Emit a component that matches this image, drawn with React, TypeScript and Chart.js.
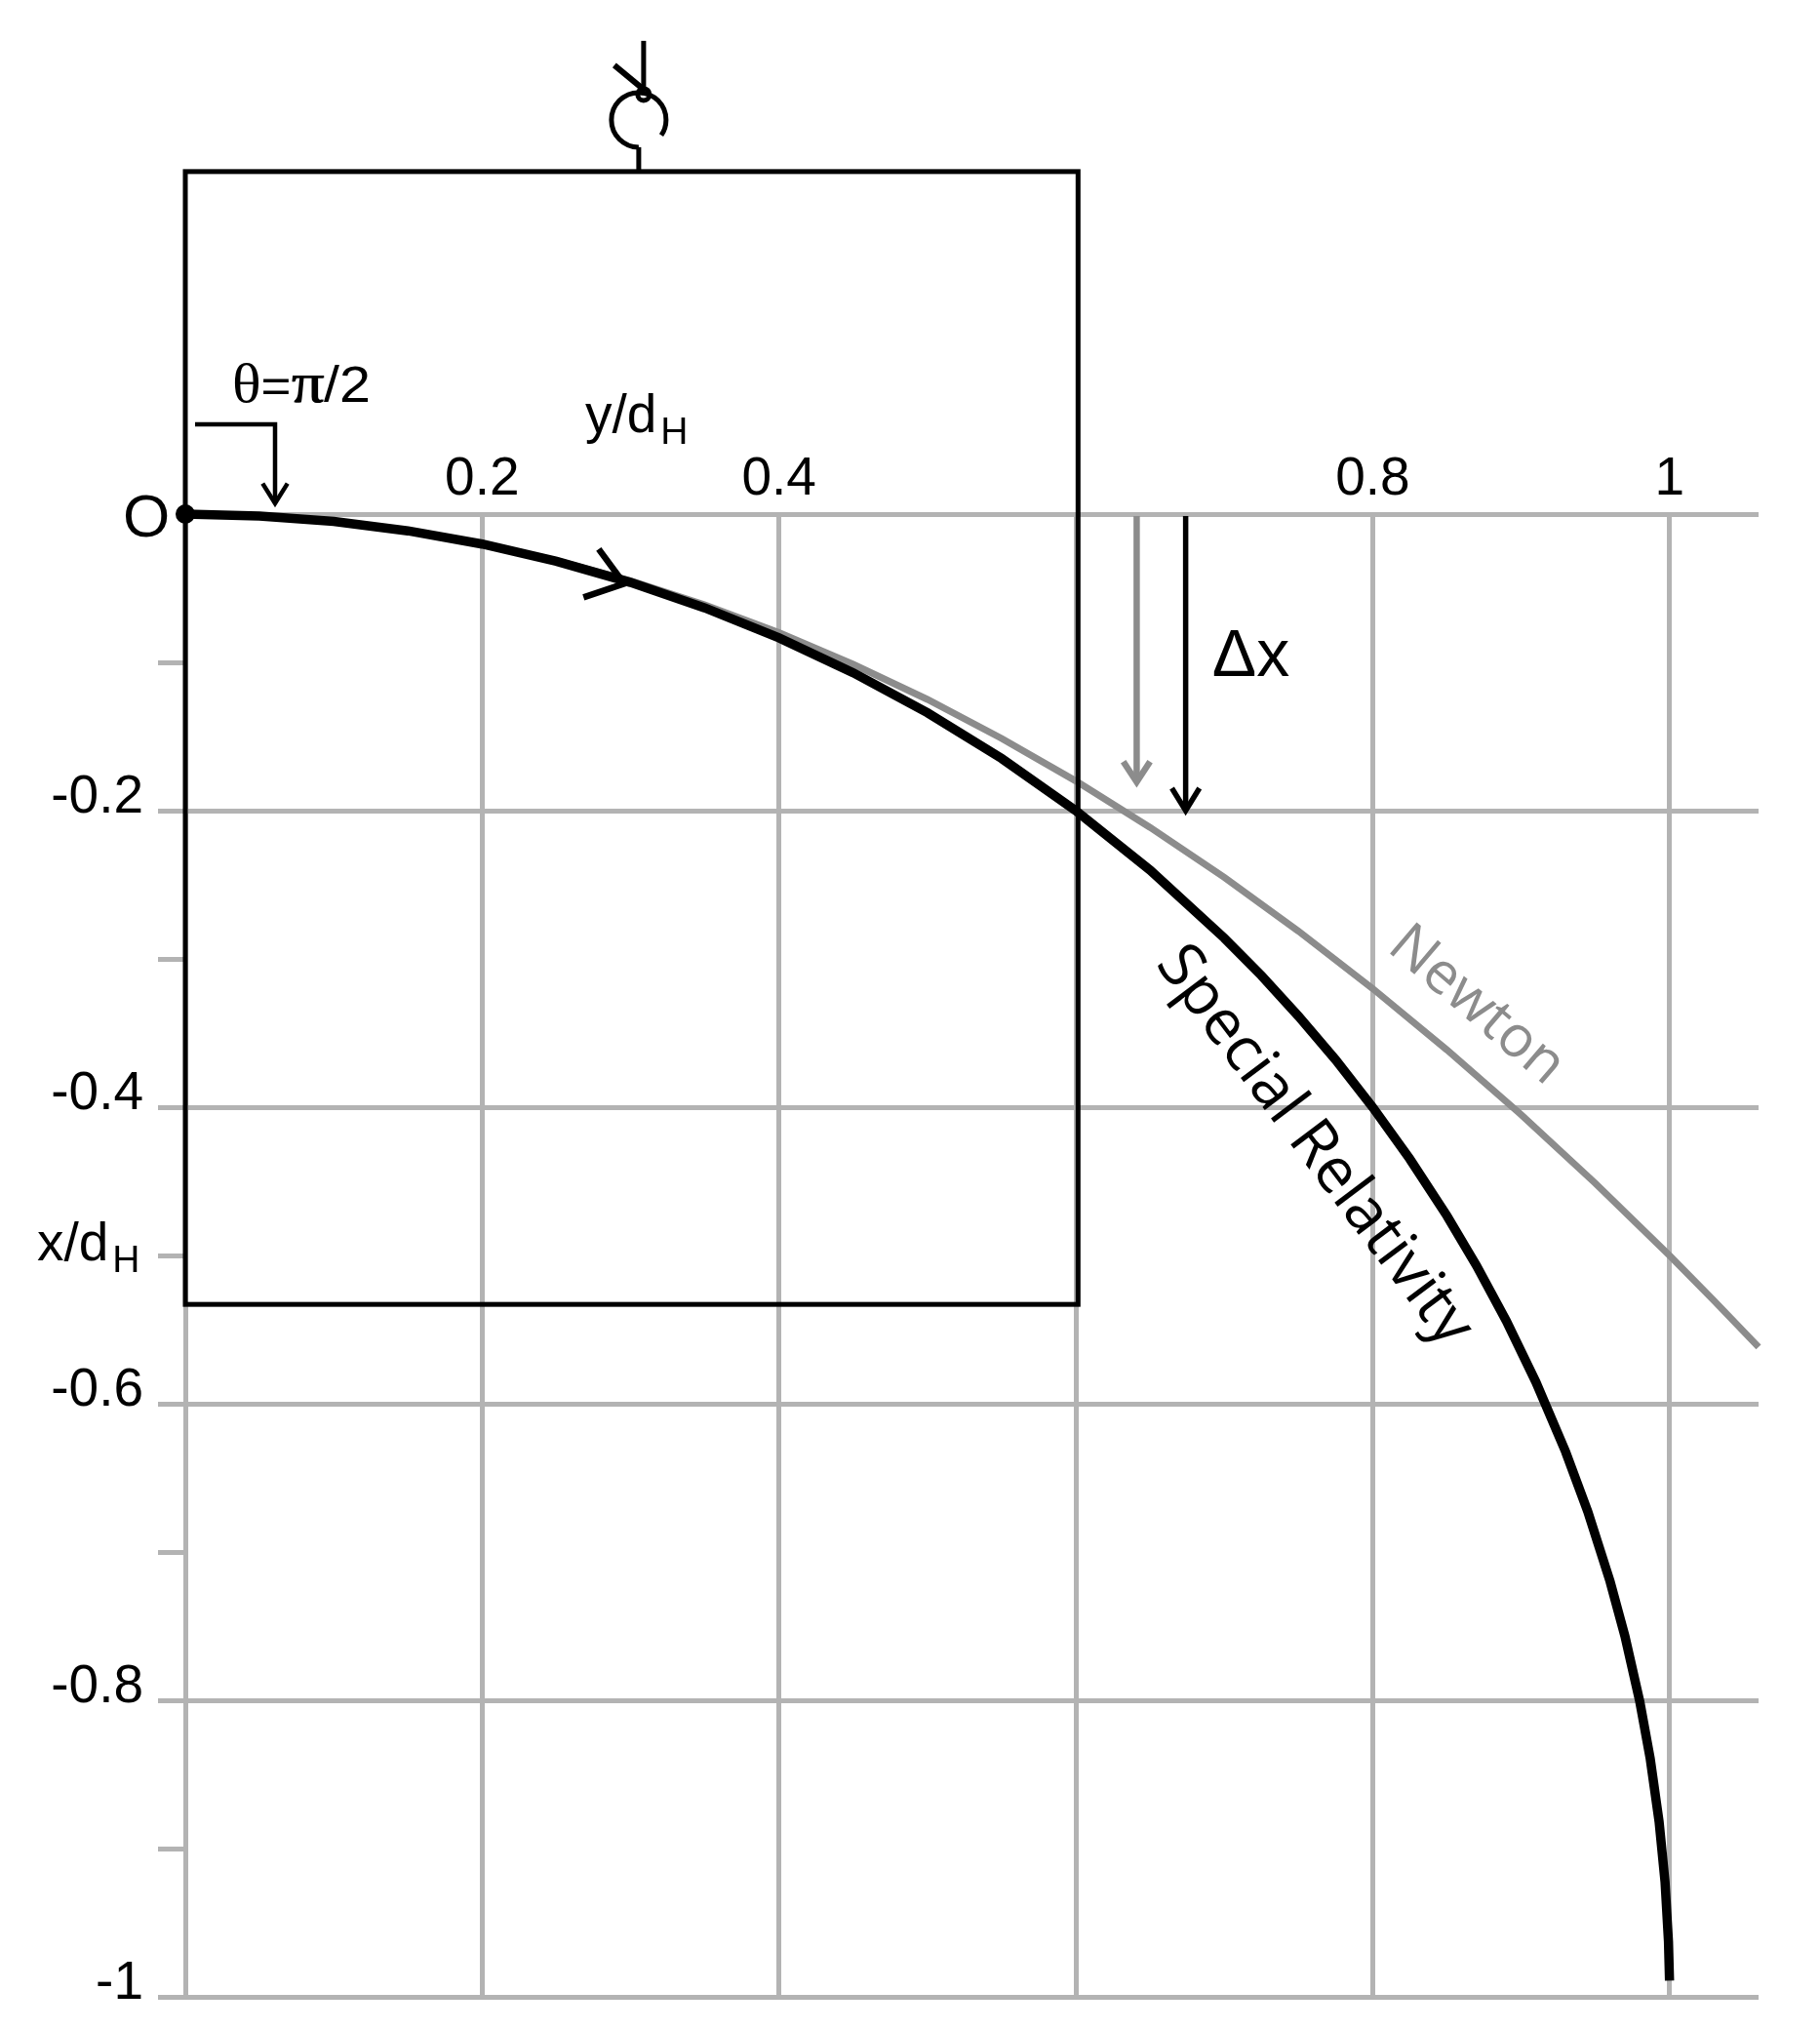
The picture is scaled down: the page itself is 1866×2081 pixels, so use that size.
import React, { useEffect, useRef } from "react";
import { Chart, registerables } from "chart.js";

Chart.register(...registerables);

// ---- data (horizontal = y/dH, vertical = x/dH) ----
const srH = [0, 0.05, 0.1, 0.15, 0.2, 0.25, 0.3, 0.35, 0.4, 0.45, 0.5, 0.55, 0.6, 0.65, 0.7, 0.725, 0.75, 0.775, 0.8, 0.825, 0.85, 0.87, 0.89, 0.91, 0.93, 0.945, 0.96, 0.97, 0.98, 0.987, 0.993, 0.997, 0.9993, 1.0];
const srV = [0, -0.0013, -0.005, -0.0113, -0.0202, -0.0318, -0.0461, -0.0633, -0.0835, -0.107, -0.134, -0.1648, -0.2, -0.2401, -0.2859, -0.3112, -0.3386, -0.368, -0.4, -0.4349, -0.4732, -0.5069, -0.544, -0.5854, -0.6324, -0.6729, -0.72, -0.7569, -0.801, -0.8393, -0.8819, -0.9226, -0.9626, -0.989];

const newtonH = [0, 0.05, 0.1, 0.15, 0.2, 0.25, 0.3, 0.35, 0.4, 0.45, 0.5, 0.55, 0.6, 0.65, 0.7, 0.75, 0.8, 0.85, 0.9, 0.95, 1.0, 1.03, 1.06];
const newtonV = [0, -0.0013, -0.005, -0.0113, -0.02, -0.0313, -0.045, -0.0613, -0.08, -0.1013, -0.125, -0.1513, -0.18, -0.2113, -0.245, -0.2813, -0.32, -0.3613, -0.405, -0.4513, -0.5, -0.5305, -0.5618];

const xTickValues = [0, 0.2, 0.4, 0.6, 0.8, 1];
const xTickLabels = ["", "0.2", "0.4", "", "0.8", "1"];
const yTickValues = [0, -0.1, -0.2, -0.3, -0.4, -0.5, -0.6, -0.7, -0.8, -0.9, -1];
const yTickLabels = ["", "", "-0.2", "", "-0.4", "", "-0.6", "", "-0.8", "", "-1"];

// Δx arrows (horizontal position, end value)
const newtonDrop = { h: 0.641, v: -0.1807 };
const srDrop = { h: 0.674, v: -0.2 };
// box (observer's frame)
const frame = { left: 0, right: 0.6015, top: 0.231, bottom: -0.533 };
const observerH = 0.3055;
const curveArrowAt = { h: 0.2957, v: -0.0469 };

const GRID = "#b3b3b3";
const GRAY = "#8c8c8c";

function arrowHead(ctx: CanvasRenderingContext2D, tx: number, ty: number, ang: number, len: number, spread: number) {
  ctx.beginPath();
  ctx.moveTo(tx + len * Math.cos(ang + Math.PI - spread), ty + len * Math.sin(ang + Math.PI - spread));
  ctx.lineTo(tx, ty);
  ctx.lineTo(tx + len * Math.cos(ang + Math.PI + spread), ty + len * Math.sin(ang + Math.PI + spread));
  ctx.stroke();
}

const overlay = {
  id: "overlay",
  afterDatasetsDraw(chart: any) {
    const ctx: CanvasRenderingContext2D = chart.ctx;
    const xs = chart.scales.x;
    const ys = chart.scales.y;
    const px = (v: number) => xs.getPixelForValue(v);
    const py = (v: number) => ys.getPixelForValue(v);
    ctx.save();
    ctx.lineCap = "butt";
    ctx.lineJoin = "miter";

    // frame box
    ctx.strokeStyle = "#000";
    ctx.lineWidth = 5;
    const bl = px(frame.left), br = px(frame.right), bt = py(frame.top), bb = py(frame.bottom);
    ctx.strokeRect(bl, bt, br - bl, bb - bt);

    // observer symbol on top of box
    const ox = px(observerH);
    ctx.lineWidth = 5;
    ctx.beginPath();
    ctx.moveTo(ox, bt);
    ctx.lineTo(ox, bt - 25);
    ctx.stroke();
    ctx.beginPath();
    ctx.arc(ox, bt - 53, 28, Math.PI / 2, 2 * Math.PI + 0.6, false);
    ctx.stroke();
    ctx.beginPath();
    ctx.arc(ox + 5, bt - 79, 6, 0, Math.PI * 2);
    ctx.stroke();
    ctx.beginPath();
    ctx.moveTo(ox + 5, bt - 134);
    ctx.lineTo(ox + 5, bt - 85);
    ctx.stroke();
    ctx.lineWidth = 6;
    ctx.beginPath();
    ctx.moveTo(ox - 25, bt - 109);
    ctx.lineTo(ox + 4, bt - 85);
    ctx.stroke();

    // origin dot
    const x0 = px(0), y0 = py(0);
    ctx.fillStyle = "#000";
    ctx.beginPath();
    ctx.arc(x0, y0, 10, 0, Math.PI * 2);
    ctx.fill();

    // theta bracket arrow
    ctx.lineWidth = 4.5;
    ctx.beginPath();
    ctx.moveTo(x0 + 10, y0 - 92);
    ctx.lineTo(x0 + 92, y0 - 92);
    ctx.lineTo(x0 + 92, y0 - 11);
    ctx.stroke();
    arrowHead(ctx, x0 + 92, y0 - 11, Math.PI / 2, 24, 0.56);

    // Δx arrows
    ctx.strokeStyle = GRAY;
    ctx.lineWidth = 6.5;
    const gx = px(newtonDrop.h), gy = py(newtonDrop.v);
    ctx.beginPath();
    ctx.moveTo(gx, y0 + 2);
    ctx.lineTo(gx, gy - 2);
    ctx.stroke();
    arrowHead(ctx, gx, gy, Math.PI / 2, 25, 0.58);
    ctx.strokeStyle = "#000";
    ctx.lineWidth = 5.5;
    const kx = px(srDrop.h), ky = py(srDrop.v);
    ctx.beginPath();
    ctx.moveTo(kx, y0 + 2);
    ctx.lineTo(kx, ky - 2);
    ctx.stroke();
    arrowHead(ctx, kx, ky, Math.PI / 2, 27, 0.55);

    // arrow on SR curve
    const tx = px(curveArrowAt.h), ty = py(curveArrowAt.v);
    const ang = Math.atan2(py(srV[7]) - py(srV[5]), px(srH[7]) - px(srH[5]));
    ctx.lineWidth = 6.5;
    arrowHead(ctx, tx, ty, ang, 44, 0.63);

    // texts
    ctx.fillStyle = "#000";
    ctx.textBaseline = "alphabetic";
    ctx.textAlign = "center";
    ctx.font = "62px 'Liberation Sans'";
    ctx.fillText("O", x0 - 40, y0 + 23);

    ctx.textAlign = "left";
    ctx.font = "55px 'Liberation Sans'";
    const yl = px(0.2694), yb = py(0.0551);
    ctx.fillText("y/d", yl, yb);
    const w1 = ctx.measureText("y/d").width;
    ctx.font = "39px 'Liberation Sans'";
    ctx.fillText("H", yl + w1 + 4, yb + 12);

    ctx.font = "55px 'Liberation Sans'";
    const xl = px(-0.0999), xb = py(-0.5031);
    ctx.fillText("x/d", xl, xb);
    const w2 = ctx.measureText("x/d").width;
    ctx.font = "39px 'Liberation Sans'";
    ctx.fillText("H", xl + w2 + 4, xb + 12);

    ctx.font = "68px 'Liberation Sans'";
    ctx.fillText("Δx", px(0.6919), py(-0.1092));

    // θ=π/2
    const pieces = [
      { t: "θ", f: "56px 'Liberation Serif'" },
      { t: "=", f: "48px 'Liberation Sans'" },
      { t: "π", f: "60px 'Liberation Serif'" },
      { t: "/2", f: "52px 'Liberation Sans'" },
    ];
    let total = 0;
    const widths = pieces.map((p) => {
      ctx.font = p.f;
      const w = ctx.measureText(p.t).width;
      total += w;
      return w;
    });
    const sx = 142 / total;
    ctx.save();
    ctx.translate(px(0.0315), py(0.075) - 1);
    ctx.scale(sx, 1);
    let cx = 0;
    pieces.forEach((p, i) => {
      ctx.font = p.f;
      ctx.fillText(p.t, cx, 0);
      if (p.t === "π") ctx.fillText(p.t, cx + 1.2, 0);
      cx += widths[i];
    });
    ctx.restore();

    // rotated curve labels
    ctx.textAlign = "center";
    ctx.textBaseline = "middle";
    ctx.save();
    ctx.translate(px(0.8699), py(-0.3316));
    ctx.rotate((40.5 * Math.PI) / 180);
    ctx.fillStyle = GRAY;
    ctx.font = "59px 'Open Sans'";
    ctx.fillText("Newton", 0, 0);
    ctx.restore();

    ctx.save();
    ctx.translate(px(0.7605), py(-0.4262));
    ctx.rotate((53 * Math.PI) / 180);
    ctx.fillStyle = "#000";
    ctx.font = "64px 'Open Sans'";
    ctx.fillText("Special Relativity", 0, 0);
    ctx.restore();

    ctx.restore();
  },
};

export default function App() {
  const ref = useRef<HTMLCanvasElement | null>(null);
  useEffect(() => {
    if (!ref.current) return;
    const chart = new Chart(ref.current, {
      type: "scatter",
      data: {
        datasets: [
          {
            label: "Special Relativity",
            data: srH.map((h, i) => ({ x: h, y: srV[i] })),
            showLine: true,
            borderColor: "#000",
            borderWidth: 9.5,
            pointRadius: 0,
            tension: 0,
            order: 0,
            clip: false as any,
          },
          {
            label: "Newton",
            data: newtonH.map((h, i) => ({ x: h, y: newtonV[i] })),
            showLine: true,
            borderColor: GRAY,
            borderWidth: 7,
            pointRadius: 0,
            tension: 0,
            order: 1,
            clip: false as any,
          },
        ],
      },
      options: {
        animation: false,
        responsive: false,
        maintainAspectRatio: false,
        layout: { padding: { left: 0, top: 0, right: 63, bottom: 34 } },
        plugins: { legend: { display: false }, tooltip: { enabled: false } },
        scales: {
          x: {
            type: "linear",
            position: "top",
            min: 0,
            max: 1.06,
            afterBuildTicks: (s: any) => {
              s.ticks = xTickValues.map((v) => ({ value: v }));
            },
            afterFit: (s: any) => {
              s.height = 527;
              s.paddingLeft = 0;
              s.paddingRight = 0;
            },
            border: { display: false },
            grid: { color: GRID, lineWidth: 5, drawTicks: false },
            ticks: {
              autoSkip: false,
              maxRotation: 0,
              padding: 2,
              color: "#000",
              font: { family: "'Liberation Sans'", size: 55 },
              callback: (v: any) => {
                const i = xTickValues.findIndex((t) => Math.abs(t - v) < 1e-6);
                return i >= 0 ? xTickLabels[i] : "";
              },
            },
          },
          y: {
            type: "linear",
            min: -1,
            max: 0,
            afterBuildTicks: (s: any) => {
              s.ticks = yTickValues.map((v) => ({ value: v }));
            },
            afterFit: (s: any) => {
              s.width = 190;
              s.paddingTop = 0;
              s.paddingBottom = 0;
            },
            border: { display: false },
            grid: {
              lineWidth: 5,
              tickLength: 28,
              color: (c: any) => {
                const v = c.tick ? c.tick.value : 0;
                return Math.abs(Math.round(v * 10)) % 2 === 0 ? GRID : "rgba(0,0,0,0)";
              },
              tickColor: (c: any) => {
                const v = c.tick ? c.tick.value : 0;
                return Math.abs(v) < 1e-6 ? "rgba(0,0,0,0)" : GRID;
              },
            },
            ticks: {
              autoSkip: false,
              padding: 15,
              labelOffset: -13,
              color: "#000",
              font: { family: "'Liberation Sans'", size: 55 },
              callback: (v: any) => {
                const i = yTickValues.findIndex((t) => Math.abs(t - v) < 1e-6);
                return i >= 0 ? yTickLabels[i] : "";
              },
            },
          },
        },
      },
      plugins: [overlay],
    } as any);
    return () => chart.destroy();
  }, []);
  return (
    <div style={{ position: "absolute", left: 0, top: 0, width: 1866, height: 2081, background: "#fff" }}>
      <canvas ref={ref} width={1866} height={2081} style={{ display: "block", width: 1866, height: 2081 }} />
    </div>
  );
}
